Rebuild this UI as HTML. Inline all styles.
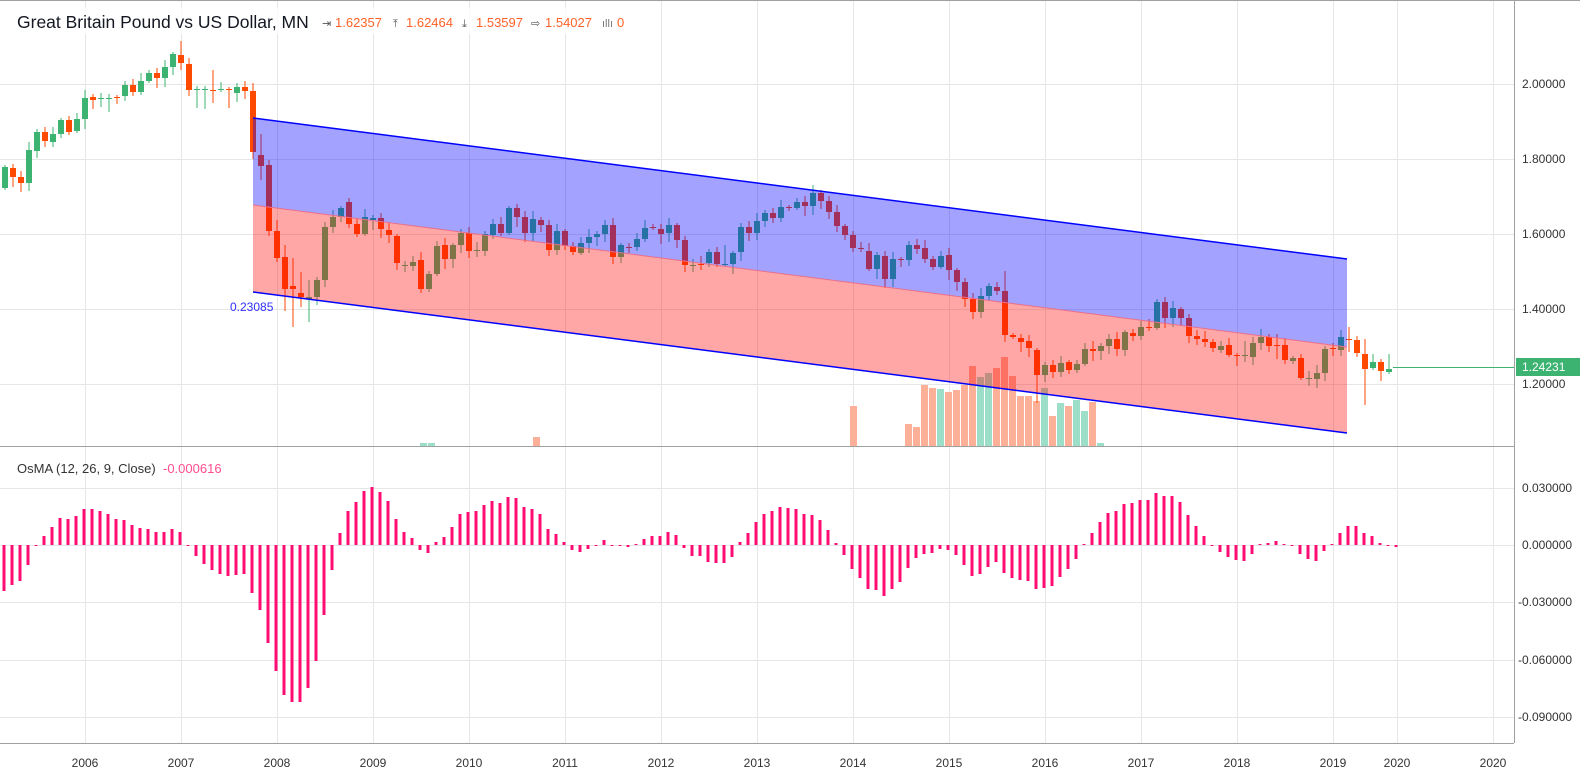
<!DOCTYPE html>
<html><head><meta charset="utf-8"><style>
html,body{margin:0;padding:0;background:#fff;width:1580px;height:778px;overflow:hidden}
svg{display:block;font-family:"Liberation Sans",sans-serif}
</style></head><body>
<svg id="s" width="1580" height="778" xmlns="http://www.w3.org/2000/svg"></svg>
<script>
const NS="http://www.w3.org/2000/svg";const S=document.getElementById('s');
function el(t,a,txt){const e=document.createElementNS(NS,t);for(const k in a)e.setAttribute(k,a[k]);if(txt!==undefined)e.textContent=txt;S.appendChild(e);return e;}
const gx=[85,181,277,373,469,565,661,757,853,949,1045,1141,1237,1333,1397,1493];
gx.forEach(x=>{el('line',{x1:x+.5,y1:0,x2:x+.5,y2:743,stroke:'#e6e6e6'});});
[84,159,234,309,384].forEach(y=>el('line',{x1:0,y1:y+.5,x2:1514,y2:y+.5,stroke:'#e6e6e6'}));
[488,545,602,660,717].forEach(y=>el('line',{x1:0,y1:y+.5,x2:1514,y2:y+.5,stroke:'#e6e6e6'}));
const SAL='rgb(252,176,152)',MIN='rgb(156,222,200)';
const vol=[[420,443,MIN],[428,443,MIN],[533,437,SAL],[850,406,SAL],[905,424,SAL],[913,427,SAL],[921,385,SAL],[929,388,SAL],[937,389,MIN],[945,392,SAL],[953,390,SAL],[961,385,SAL],[969,366,SAL],[977,377,MIN],[985,373,MIN],[993,368,SAL],[1001,357,SAL],[1009,376,SAL],[1017,396,SAL],[1025,396,SAL],[1033,401,SAL],[1041,388,MIN],[1049,416,SAL],[1057,403,MIN],[1065,406,SAL],[1073,400,MIN],[1081,411,MIN],[1089,402,SAL],[1097,443,MIN]];
vol.forEach(v=>el('rect',{x:v[0],y:v[1],width:7,height:446-v[1],fill:v[2]}));
const C=[[167,188,'g'],[168,177,'r'],[177,183,'r'],[150,183,'g'],[132,151,'g'],[132,141,'r'],[134,142,'g'],[120,134,'g'],[120,132,'r'],[119,131,'g'],[98,119,'g'],[97,100,'r'],[98,99,'g'],[98,99,'g',94,112],[97,98,'r'],[85,96,'g'],[85,92,'r'],[81,92,'g'],[73,81,'g'],[73,78,'r'],[67,78,'g'],[54,67,'g'],[55,63,'r',41,70],[64,90,'r'],[89,90,'g',86,108],[89,90,'g',86,109],[90,91,'r',70,103],[89,90,'g'],[89,90,'r',87,108],[87,93,'g'],[87,91,'r'],[91,152,'r'],[155,166,'r',134,180],[165,231,'r'],[231,258,'r',220,262],[257,289,'r',245,311],[286,289,'r',258,327],[293,297,'r',272,307],[297,299,'g',280,322],[280,297,'g'],[227,280,'g'],[217,227,'g'],[208,217,'g'],[202,224,'r'],[224,234,'r'],[217,234,'g'],[218,220,'g'],[218,229,'r'],[230,235,'r'],[236,263,'r'],[265,266,'g'],[262,266,'g'],[260,289,'r'],[274,289,'g'],[246,274,'g'],[245,259,'r'],
[245,259,'g'],[233,245,'g'],[233,251,'r'],[250,251,'g'],[234,251,'g'],[224,235,'g'],[224,233,'r'],[208,233,'g'],[208,217,'r'],[217,233,'r'],[219,233,'g'],[220,225,'r'],[225,250,'r'],[231,250,'g'],[231,246,'r'],[246,252,'r'],[243,253,'g'],[237,243,'g'],[234,237,'g'],[225,234,'g'],[225,257,'r'],[245,257,'g'],[247,248,'r'],[239,247,'g'],[228,239,'g'],[227,228,'r'],[229,234,'r'],[225,233,'g'],[225,240,'r'],[240,265,'r'],[265,266,'g'],[264,265,'r'],[252,263,'g'],[252,264,'r'],[264,265,'g',245,266],[253,264,'g'],[227,252,'g'],[227,233,'r'],[221,233,'g'],[213,221,'g'],[213,218,'r'],[207,218,'g'],[207,208,'r'],[202,208,'g'],[202,206,'r'],[193,206,'g'],[193,201,'r'],[201,212,'r'],[212,226,'r'],[226,235,'r'],[235,248,'r'],[248,249,'r'],[251,269,'r'],[255,269,'g'],[256,279,'r'],
[259,279,'g'],[259,260,'r'],[245,260,'g'],[245,249,'r'],[248,259,'r'],[259,267,'r'],[256,267,'g'],[255,270,'r'],[270,282,'r'],[282,299,'r'],[299,312,'r'],[296,312,'g'],[286,296,'g'],[287,291,'r'],[291,335,'r',271,342],[335,337,'r'],[338,342,'r'],[341,348,'r'],[350,375,'r',348,403],[365,375,'g'],[365,372,'r'],[363,372,'g'],[362,370,'r'],[364,370,'g'],[349,364,'g'],[349,351,'r'],[346,351,'g'],[339,346,'g'],[339,349,'r'],[332,350,'g'],[333,336,'r'],[327,336,'g'],[327,328,'r'],[302,328,'g'],[302,318,'r'],[308,318,'g'],[309,318,'r'],[318,336,'r'],[336,339,'r'],[339,342,'r'],[342,348,'r'],[346,350,'g'],[345,355,'r'],[355,356,'r'],[355,356,'g',341,362],[343,357,'g'],[337,343,'g'],[337,346,'r'],[345,346,'r',334,359],[345,360,'r'],[358,361,'g'],[358,378,'r'],[378,379,'g',371,386],[373,379,'g'],[349,373,'g'],[348,349,'r'],[337,350,'g'],[339,340,'r',327,352],[340,353,'r'],[354,369,'r',339,405],[362,368,'g'],[362,371,'r'],[369,372,'g',354,374]];
C.forEach((c,i)=>{const x=5+8*i;const col=c[2]=='g'?'#3cb371':'#ff4a00';
 const r1=((i*37)%7)+2,r2=((i*53)%9)+2;
 const hi=c[3]!==undefined?c[3]:c[0]-r1, lo=c[4]!==undefined?c[4]:c[1]+r2;
 el('rect',{x:x-0.5,y:hi,width:1,height:lo-hi,fill:col});
 el('rect',{x:x-3,y:c[0],width:6,height:Math.max(1,c[1]-c[0]),fill:col});});
el('polygon',{points:'253,118 1347,259 1347,347 253,205',fill:'rgba(0,0,255,0.36)'});
el('polygon',{points:'253,205 1347,347 1347,433 253,292',fill:'rgba(255,0,0,0.35)'});
el('line',{x1:253,y1:205,x2:1347,y2:347,stroke:'#e8708c','stroke-width':1});
el('line',{x1:253,y1:118,x2:1347,y2:259,stroke:'#0000ff','stroke-width':1.5});
el('line',{x1:253,y1:292,x2:1347,y2:433,stroke:'#0000ff','stroke-width':1.5});
el('text',{x:230,y:311,'font-size':12,fill:'#3030ff'},'0.23085');
el('line',{x1:1393,y1:367.5,x2:1514,y2:367.5,stroke:'#3cb371'});
const O=[-46,-40,-36,-20,-1,9,18,27,26,29,36,36,34,31,26,25,20,17,16,13,13,16,13,-1,-11,-19,-25,-29,-31,-30,-29,-48,-65,-98,-126,-150,-157,-157,-143,-116,-70,-25,12,34,43,54,58,53,44,26,13,7,-5,-8,3,8,18,31,33,34,40,44,42,48,47,38,36,31,16,11,3,-5,-7,-4,-1,5,-1,-1,-2,1,6,9,9,13,10,-3,-11,-11,-17,-18,-18,-12,3,12,23,31,34,38,37,36,31,30,25,15,2,-10,-24,-33,-44,-45,-51,-44,-37,-23,-13,-9,-8,-4,-5,-10,-20,-31,-29,-22,-17,-28,-33,-35,-36,-44,-43,-41,-32,-24,-14,1,12,23,32,34,41,42,45,45,52,49,49,43,30,19,9,-1,-7,-12,-15,-16,-9,0,2,4,0,-1,-9,-14,-16,-6,1,12,19,19,12,9,2,-1,-2];
O.forEach((v,i)=>{const x=4+8*i;if(Math.abs(v)<0.5)v=v<0?-1:1;
 el('rect',{x:x-1.5,y:v>0?545-v:545,width:3,height:Math.abs(v),fill:'#ff0d72'});});
el('line',{x1:0,y1:0.5,x2:1580,y2:0.5,stroke:'#a0a0a0'});
el('line',{x1:0,y1:446.5,x2:1514,y2:446.5,stroke:'#a0a0a0'});
el('line',{x1:0,y1:743.5,x2:1514,y2:743.5,stroke:'#a0a0a0'});
el('line',{x1:1514.5,y1:0,x2:1514.5,y2:743,stroke:'#a0a0a0'});
[['2.00000',84],['1.80000',159],['1.60000',234],['1.40000',309],['1.20000',384]].forEach(a=>el('text',{x:1522,y:a[1]+4,'font-size':12,fill:'#333'},a[0]));
el('rect',{x:1516,y:358,width:64,height:18,fill:'#3cb371'});
el('text',{x:1522,y:371,'font-size':12,fill:'#fff'},'1.24231');
[['0.030000',488],['0.000000',545],['-0.030000',602],['-0.060000',660],['-0.090000',717]].forEach(a=>el('text',{x:a[0][0]=='-'?1518:1522,y:a[1]+4,'font-size':12,fill:'#333'},a[0]));
[['2006',85],['2007',181],['2008',277],['2009',373],['2010',469],['2011',565],['2012',661],['2013',757],['2014',853],['2015',949],['2016',1045],['2017',1141],['2018',1237],['2019',1333],['2020',1397],['2020',1493]].forEach(a=>el('text',{x:a[1],y:767,'font-size':12,fill:'#333','text-anchor':'middle'},a[0]));
el('rect',{x:10,y:8,width:620,height:26,fill:'rgba(255,255,255,0.8)'});
el('text',{x:17,y:28,'font-size':17.5,fill:'#131722'},'Great Britain Pound vs US Dollar, MN');
const OR='#ff6228';
[['⇥',322,'1.62357',335],['⤒',393,'1.62464',406],['⤓',462,'1.53597',476],['⇨',531,'1.54027',545]].forEach(a=>{el('text',{x:a[1],y:27,'font-size':11,fill:'#555'},a[0]);el('text',{x:a[3],y:27,'font-size':13,fill:OR},a[2]);});
el('text',{x:602,y:27,'font-size':11,fill:'#777'},'ıllı');
el('text',{x:617,y:27,'font-size':13,fill:OR},'0');
el('text',{x:17,y:473,'font-size':13,fill:'#333'},'OsMA (12, 26, 9, Close)');
el('text',{x:163,y:473,'font-size':13,fill:'#ff4d8d'},'-0.000616');
</script>
</body></html>
